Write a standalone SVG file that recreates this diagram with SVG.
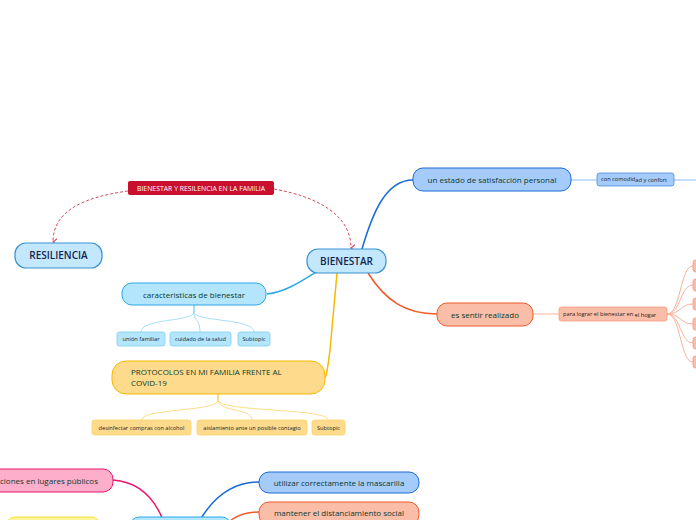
<svg xmlns="http://www.w3.org/2000/svg" width="696" height="520" viewBox="0 0 696 520">
<defs>
<marker id="arr" viewBox="0 0 10 10" refX="5" refY="8" markerWidth="8" markerHeight="8" orient="auto-start-reverse" markerUnits="userSpaceOnUse">
<path d="M1,3 L5,8 L9,3" fill="none" stroke="#d64a5f" stroke-width="1.4"/>
</marker>
<style>
text{font-family:"Open Sans","Noto Sans","Liberation Sans",sans-serif;}
.t{fill:#0c3a2b;font-size:8px;font-weight:500;}
.s{fill:#1a2424;font-size:5.7px;font-weight:500;}
.b{fill:#0f2650;font-size:10px;font-weight:600;}
.blue{fill:#c3e7fc;stroke:#3a92d4;stroke-width:1.2;}
.cyan{fill:#b3e5fc;stroke:#29a9e8;stroke-width:1;}
.cyans{fill:#b3e5fc;stroke:#7fcdf0;stroke-width:0.8;}
.azul{fill:#a4cbfa;stroke:#1a6ad8;stroke-width:1;}
.azuls{fill:#a4cbfa;stroke:#4a8ae0;stroke-width:0.8;}
.ora{fill:#f9bda8;stroke:#f05a28;stroke-width:1;}
.oras{fill:#f9bda8;stroke:#f59b80;stroke-width:0.8;}
.yel{fill:#fedb8c;stroke:#f5b800;stroke-width:1;}
.yels{fill:#fedb8c;stroke:#fbd36b;stroke-width:0.8;}
.pink{fill:#fdaecb;stroke:#e8176c;stroke-width:1;}
.lem{fill:#fff59d;stroke:#f2df3a;stroke-width:1;}
</style>
</defs>
<g id="connectors" fill="none">
<path d="M128,191 C85,197 53,210 53,242" stroke="#d64a5f" stroke-width="1" stroke-dasharray="3,2" marker-end="url(#arr)"/>
<path d="M274,189 C318,197 351,215 351,248" stroke="#d64a5f" stroke-width="1" stroke-dasharray="3,2" marker-end="url(#arr)"/>
<path d="M362,249 C372,215 385,180 413,180" stroke="#1a6ad8" stroke-width="1.5"/>
<path d="M368,273 C385,300 405,314 437,314" stroke="#f05a28" stroke-width="1.5"/>
<path d="M267,294 C285,292 300,282 316,272" stroke="#29a9e8" stroke-width="1.5"/>
<path d="M337,273 L330,350 C328,366 327,375 325,378" stroke="#f5b800" stroke-width="1.5"/>
<path d="M571,180 L597,180 M674,180 L696,180" stroke="#8cbcf4" stroke-width="1"/>
<path d="M533,314 L559,314" stroke="#f9b19a" stroke-width="1"/>
<g stroke="#f9b19a" stroke-width="1">
<path d="M667,314 C681,314 680,266 693,266"/>
<path d="M667,314 C681,314 680,285 693,285"/>
<path d="M667,314 C681,314 680,304 693,304"/>
<path d="M667,314 C681,314 680,324 693,324"/>
<path d="M667,314 C681,314 680,343 693,343"/>
<path d="M667,314 C681,314 680,362 693,362"/>
</g>
<g stroke="#8fd6f4" stroke-width="0.8">
<path d="M194,305 L194,312 C194,322 141,318 141,332"/>
<path d="M194,305 L194,312 C194,322 200,318 200,332"/>
<path d="M194,305 L194,312 C194,322 254,318 254,332"/>
</g>
<g stroke="#fbd36b" stroke-width="0.8">
<path d="M218,394 L218,400 C218,412 142,408 142,420"/>
<path d="M218,394 L218,400 C218,412 252,408 252,420"/>
<path d="M218,394 L218,400 C218,412 328,408 328,420"/>
</g>
<path d="M113,480 C140,482 155,500 163,520" stroke="#e8176c" stroke-width="1.5"/>
<path d="M200,520 C215,495 235,482 259,482" stroke="#1a6ad8" stroke-width="1.5"/>
<path d="M231,520 C240,514 250,512 259,512" stroke="#f05a28" stroke-width="1.5"/>
</g>
<g id="label-familia">
<rect x="128" y="181" width="146" height="14" rx="2" fill="#c8102e"/>
<text x="201" y="190.5" text-anchor="middle" fill="#ffffff" font-size="6.9">BIENESTAR Y RESILENCIA EN LA FAMILIA</text>
</g>
<g id="resiliencia">
<rect x="15" y="243" width="87" height="25" rx="11" class="blue"/>
<text x="58.5" y="259" text-anchor="middle" class="b">RESILIENCIA</text>
</g>
<g id="bienestar">
<rect x="307" y="249" width="79" height="24" rx="11" class="blue"/>
<text x="346.5" y="264.5" text-anchor="middle" class="b">BIENESTAR</text>
</g>
<g id="satisfaccion">
<rect x="413" y="168" width="158" height="23" rx="10" class="azul"/>
<text x="492" y="182.5" text-anchor="middle" class="t">un estado de satisfacción personal</text>
</g>
<g id="comodidad">
<rect x="597" y="173" width="77" height="13" rx="2.5" class="azuls"/>
<text x="601" y="181" class="s">con comodid<tspan dy="1">ad y confort</tspan></text>
</g>
<g id="realizado">
<rect x="437" y="303" width="96" height="23" rx="10" class="ora"/>
<text x="485" y="317.5" text-anchor="middle" class="t">es sentir realizado</text>
</g>
<g id="hogar">
<rect x="559" y="307" width="108" height="14" rx="2.5" class="oras"/>
<text x="563" y="315.5" class="s">para lograr el bienestar en<tspan dy="1"> el hogar</tspan></text>
</g>
<g id="hogar-items">
<rect x="693" y="260" width="20" height="12" rx="2.5" class="oras"/>
<rect x="693" y="279" width="20" height="12" rx="2.5" class="oras"/>
<rect x="693" y="298" width="20" height="12" rx="2.5" class="oras"/>
<rect x="693" y="318" width="20" height="12" rx="2.5" class="oras"/>
<rect x="693" y="337" width="20" height="12" rx="2.5" class="oras"/>
<rect x="693" y="356" width="20" height="12" rx="2.5" class="oras"/>
</g>
<g id="caracteristicas">
<rect x="122" y="283" width="144" height="22" rx="10" class="cyan"/>
<text x="194" y="297.5" text-anchor="middle" class="t" font-size="8.6">caracteristicas de bienestar</text>
</g>
<g id="union">
<rect x="117" y="332" width="48" height="14" rx="2.5" class="cyans"/>
<text x="141" y="341" text-anchor="middle" class="s">unión familiar</text>
</g>
<g id="salud">
<rect x="170" y="332" width="61" height="14" rx="2.5" class="cyans"/>
<text x="200.5" y="341" text-anchor="middle" class="s">cuidado de la salud</text>
</g>
<g id="subtopic1">
<rect x="238" y="332" width="32" height="14" rx="2.5" class="cyans"/>
<text x="254" y="341" text-anchor="middle" class="s">Subtopic</text>
</g>
<g id="protocolos">
<rect x="112" y="361" width="213" height="33" rx="14" class="yel"/>
<text x="131" y="374.5" class="t" font-size="7.6">PROTOCOLOS EN MI FAMILIA FRENTE AL</text>
<text x="131" y="386" class="t" font-size="7.6">COVID-19</text>
</g>
<g id="desinfectar">
<rect x="92" y="420" width="99" height="15" rx="2.5" class="yels"/>
<text x="141.5" y="429.5" text-anchor="middle" class="s">desinfectar compras con alcohol</text>
</g>
<g id="aislamiento">
<rect x="197" y="420" width="110" height="15" rx="2.5" class="yels"/>
<text x="252" y="429.5" text-anchor="middle" class="s">aislamiento ante un posible contagio</text>
</g>
<g id="subtopic2">
<rect x="312" y="420" width="33" height="15" rx="2.5" class="yels"/>
<text x="328.5" y="429.5" text-anchor="middle" class="s">Subtopic</text>
</g>
<g id="lugares">
<rect x="-60" y="469" width="173" height="23" rx="10" class="pink"/>
<text x="0" y="483.5" class="t">ciones en lugares públicos</text>
</g>
<g id="covid-bottom">
<rect x="130" y="517" width="101" height="20" rx="9" class="cyan"/>
</g>
<g id="amarillo">
<rect x="6" y="517" width="94" height="20" rx="9" class="lem"/>
</g>
<g id="mascarilla">
<rect x="259" y="472" width="160" height="21" rx="10" class="azul"/>
<text x="339" y="485.5" text-anchor="middle" class="t">utilizar correctamente la mascarilla</text>
</g>
<g id="distanciamiento">
<rect x="259" y="502" width="160" height="23" rx="10" class="ora"/>
<text x="339" y="516" text-anchor="middle" class="t">mantener el distanciamiento social</text>
</g>
</svg>
